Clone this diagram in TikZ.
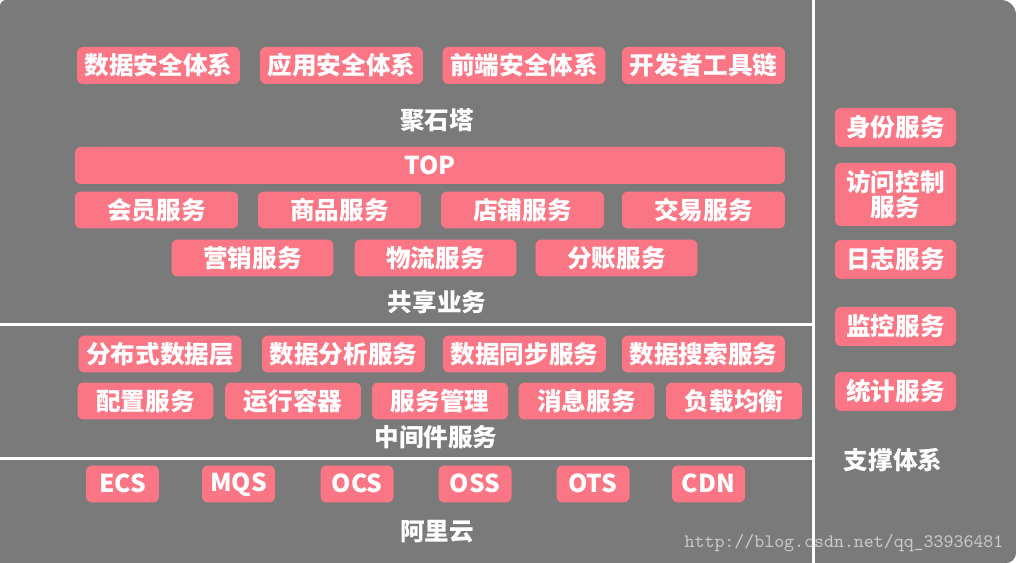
\documentclass[tikz,border=0pt]{standalone}
\usepackage{fontspec}
\setmainfont{Noto Sans CJK SC}
\usepackage{xcolor}
\usetikzlibrary{positioning,calc}
\definecolor{fondo}{RGB}{122,122,122}
\definecolor{rosa}{RGB}{250,118,133}

\begin{document}
\begin{tikzpicture}[x=0.02cm, y=-0.02cm]
  % Definir estilos
  \tikzstyle{module}=[rectangle, rounded corners=0.12cm, fill=rosa, text=white, font=\fontsize{14}{16}\selectfont\bfseries, minimum width=3.26cm, minimum height=0.74cm, inner sep=0pt]
  \tikzstyle{mwide}=[module, minimum width=2.72cm]
  \tikzstyle{msmall}=[module, minimum width=1.46cm, execute at begin node=\vphantom{服}]
  \tikzstyle{mside}=[module, minimum width=2.42cm, minimum height=0.78cm]
  \tikzstyle{layer}=[text=white, font=\fontsize{14}{16}\selectfont\bfseries]
  \tikzstyle{sep}=[white, line width=0.06cm]

  % Fondo
  \useasboundingbox (0,0) rectangle (1016,563);
  \fill[fondo] (0,563) -- (0,6) arc[start angle=180, end angle=90, radius=0.12cm] -- (1001,0)
    arc[start angle=90, end angle=0, radius=0.3cm] -- (1016,553) arc[start angle=0, end angle=-90, radius=0.2cm] -- cycle;

  % Separadores
  \coordinate (v1) at (813,0);
  \coordinate (v2) at (813,563);
  \coordinate (h1a) at (0,325);
  \coordinate (h1b) at (813,325);
  \coordinate (h2a) at (0,458);
  \coordinate (h2b) at (813,458);
  \draw[sep] (v1) -- (v2);
  \draw[sep] (h1a) -- (h1b);
  \draw[sep] (h2a) -- (h2b);

  % Capa superior (seguridad y herramientas)
  \node[module] (dsec) at (158.5,65.5) {数据安全体系};
  \node[module] (asec) at (341.5,65.5) {应用安全体系};
  \node[module] (fsec) at (524,65.5) {前端安全体系};
  \node[module] (tools) at (703.5,65.5) {开发者工具链};
  \node[layer] (jst) at (437,120) {聚石塔};

  % Servicios compartidos
  \node[module, minimum width=14.2cm] (top) at (430,165.5) {TOP};
  \node[module] (member) at (156.5,210) {会员服务};
  \node[module] (goods) at (339.5,210) {商品服务};
  \node[module] (shop) at (522.5,210) {店铺服务};
  \node[module] (trade) at (703.5,210) {交易服务};
  \node[module, minimum width=3.24cm] (market) at (252.5,258) {营销服务};
  \node[module, minimum width=3.24cm] (logis) at (435.5,258) {物流服务};
  \node[module, minimum width=3.24cm] (split) at (616.5,258) {分账服务};
  \node[layer] (shared) at (437,302) {共享业务};

  % Middleware
  \node[module] (ddl) at (160,354) {分布式数据层};
  \node[module] (dana) at (343.5,354) {数据分析服务};
  \node[module] (dsync) at (524.5,354) {数据同步服务};
  \node[module] (dsearch) at (703.5,354) {数据搜索服务};
  \node[mwide] (conf) at (145.5,401) {配置服务};
  \node[mwide] (cont) at (293,401) {运行容器};
  \node[mwide] (smgr) at (440,401) {服务管理};
  \node[mwide] (msg) at (586.5,401) {消息服务};
  \node[mwide] (lb) at (734,401) {负载均衡};
  \node[layer] (mid) at (436,437) {中间件服务};

  % Nube
  \node[msmall] (ecs) at (122.5,484) {ECS};
  \node[msmall] (mqs) at (238.5,484) {MQS};
  \node[msmall] (ocs) at (357,484) {OCS};
  \node[msmall] (oss) at (475,484) {OSS};
  \node[msmall] (ots) at (593,484) {OTS};
  \node[msmall] (cdn) at (708.5,484) {CDN};
  \node[layer] (aliyun) at (437,532) {阿里云};

  % Sistema de soporte
  \node[mside] (ident) at (895.5,127.5) {身份服务};
  \node[mside, minimum height=1.26cm, align=center] (acc) at (895.5,194.5) {访问控制\\[-2pt]服务};
  \node[mside] (log) at (895.5,259.5) {日志服务};
  \node[mside] (mon) at (895.5,326.5) {监控服务};
  \node[mside] (stat) at (895.5,391.5) {统计服务};
  \node[layer] (support) at (893,460) {支撑体系};

  % Marca de agua
  \node[text=white!60!fondo, font=\fontsize{10.8}{12}\selectfont\ttfamily] (wm) at (844,543) {http://blog.csdn.net/qq\_33936481};
\end{tikzpicture}
\end{document}
